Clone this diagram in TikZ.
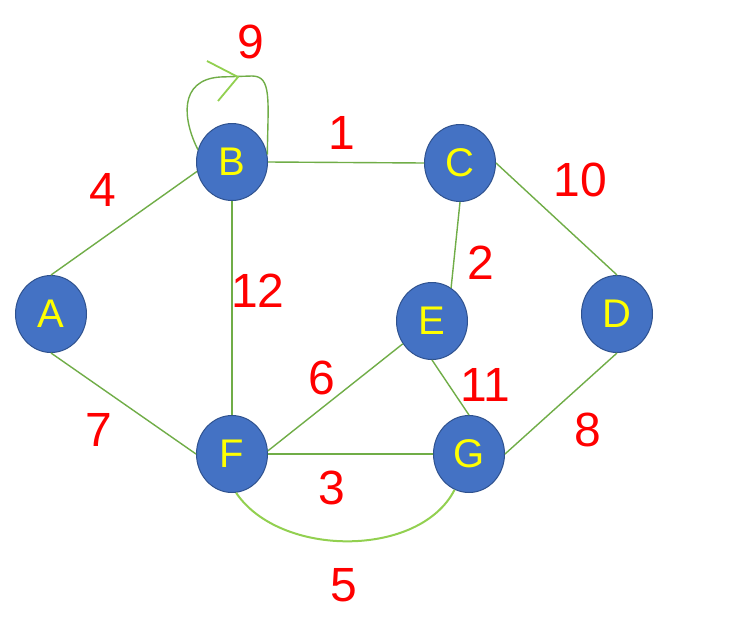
\documentclass[tikz,border=0pt]{standalone}
\usepackage{fontspec}
\setmainfont{Liberation Sans}
\usetikzlibrary{shapes.geometric}
\definecolor{nodeblue}{HTML}{4472C4}
\definecolor{nodeedge}{HTML}{2F528F}
\definecolor{edgegreen}{HTML}{70AD47}
\definecolor{lightgreen}{HTML}{92D050}
\definecolor{wred}{HTML}{FF0000}
\definecolor{wyellow}{HTML}{FFFF00}
\tikzset{
  vertex/.style={ellipse, draw=nodeedge, line width=1pt, fill=nodeblue,
    minimum width=71pt, minimum height=77pt, inner sep=0pt,
    text=wyellow, font=\fontsize{40}{40}\selectfont},
  edge/.style={draw=edgegreen, line width=1.4pt},
  wlabel/.style={text=wred, font=\fontsize{48}{48}\selectfont, inner sep=0pt}
}
\begin{document}
\begin{tikzpicture}[x=1pt,y=-1pt]
\useasboundingbox (0,0) rectangle (752,632);
\fill[white] (0,0) rectangle (752,632);
% vertices
\node[vertex] (A) at (51,314) {A};
\node[vertex] (B) at (232,162) {B};
\node[vertex] (C) at (460,163) {C};
\node[vertex] (D) at (617,314) {D};
\node[vertex] (E) at (432,321) {E};
\node[vertex] (F) at (232,454) {F};
\node[vertex] (G) at (469,454) {G};
% edges
\draw[edge] (A.north) -- (B.195);
\draw[edge] (B.east) -- (C.west);
\draw[edge] (B.south) -- (F.north);
\draw[edge] (C.south) -- (E.60);
\draw[edge] (C.east) -- (D.north);
\draw[edge] (A.south) -- (F.west);
\draw[edge] (F.5) -- (E.218);
\draw[edge] (F.east) -- (G.west);
\draw[edge] (E.south) -- (G.north);
\draw[edge] (G.east) -- (D.south);
% arc F-G
\draw[draw=lightgreen, line width=2pt] (F.-84) .. controls (280,558) and (420,558) .. (G.-112);
% loop on B
\draw[edge] (B.160) .. controls (183,120) and (178,80) .. (220,77) -- (252,76)
  .. controls (272,76) and (268,100) .. (B.12);
\draw[draw=lightgreen, line width=1.8pt] (207,61) -- (238,77) -- (218,101);
% labels
\node[wlabel] (l9) at (251,42) {9};
\node[wlabel] (l4) at (103,190) {4};
\node[wlabel] (l1) at (342,133) {1};
\node[wlabel] (l10) at (580,180) {10};
\node[wlabel] (l12) at (258,291) {12};
\node[wlabel] (l2) at (481,263) {2};
\node[wlabel] (l6) at (322,378) {6};
\node[wlabel] (l11) at (485,385) {11};
\node[wlabel] (l7) at (99,430) {7};
\node[wlabel] (l8) at (588,430) {8};
\node[wlabel] (l3) at (332,488) {3};
\node[wlabel] (l5) at (344,585) {5};
\end{tikzpicture}
\end{document}
